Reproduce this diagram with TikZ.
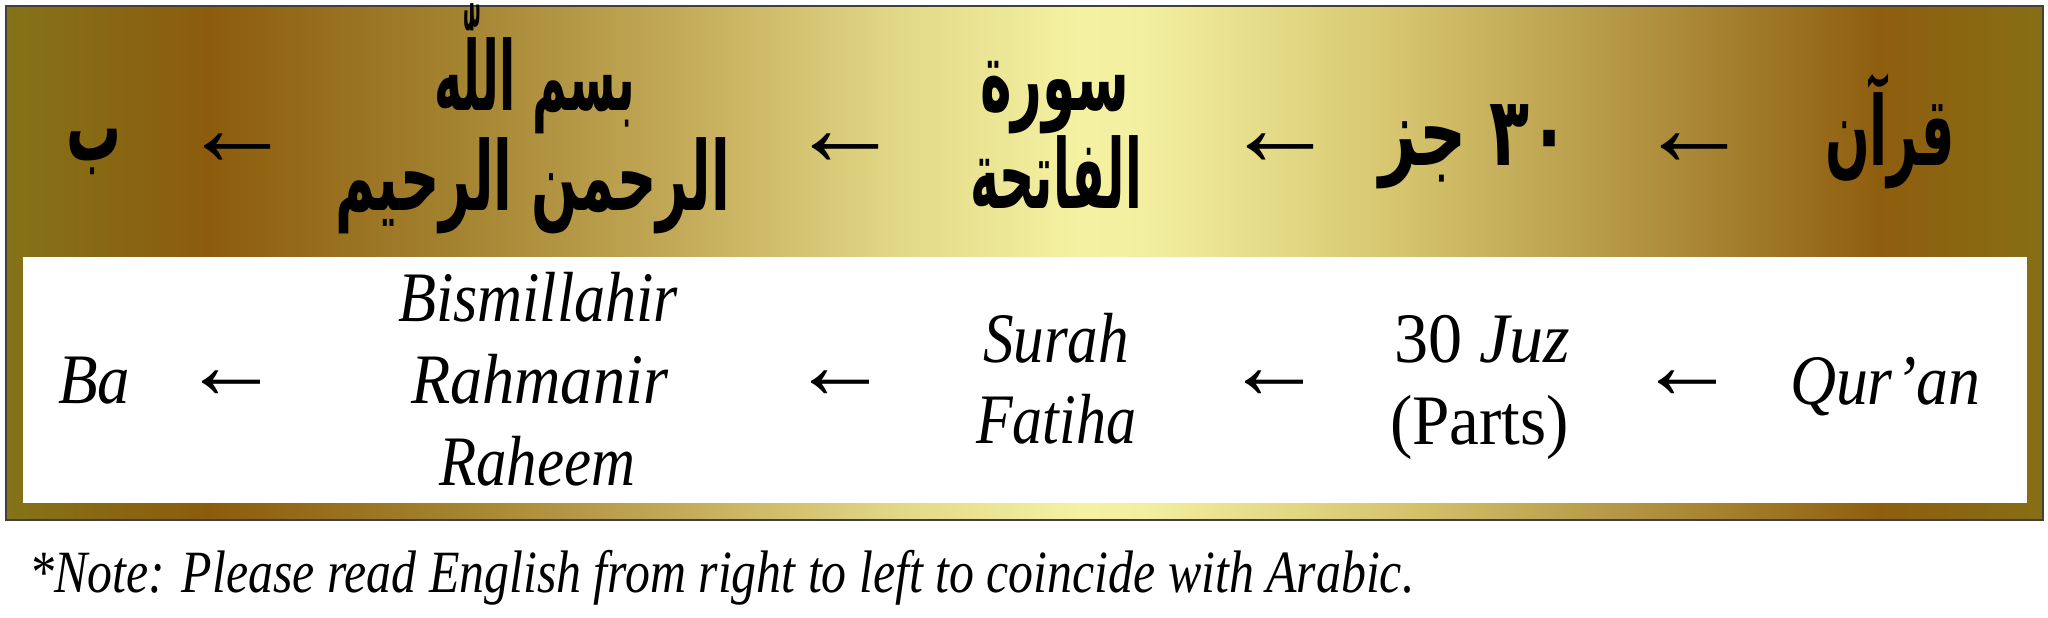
\documentclass[tikz,border=0pt]{standalone}
\usepackage{tikz}
\usepackage{graphicx}
\usepackage{fontspec}
\setmainfont{Liberation Serif}
\newfontfamily\arabicfont[Script=Arabic]{DejaVu Sans}
\TeXXeTstate=1
\newdimen\pxu \pxu=0.5pt
\newcommand\fitw[2]{\resizebox{#1\pxu}{\height}{#2}}
\newcommand\fitu[2]{\resizebox{#1\pxu}{!}{#2}}
\newcommand\artxt[1]{{\arabicfont\bfseries\beginR #1\endR}}
\definecolor{gA}{HTML}{857318}
\definecolor{gB}{HTML}{8C5C0C}
\definecolor{gC}{HTML}{A3822F}
\definecolor{gD}{HTML}{C6AE5C}
\definecolor{gE}{HTML}{E2D988}
\definecolor{gF}{HTML}{F4F2A2}
\definecolor{gG}{HTML}{F2EFA0}
\definecolor{gH}{HTML}{D6C56E}
\definecolor{gI}{HTML}{B0913F}
\definecolor{gJ}{HTML}{8E5E0E}
\definecolor{gK}{HTML}{876E14}
\pgfdeclarehorizontalshading{goldbar}{100bp}{color(0bp)=(gA); color(25bp)=(gA); color(30bp)=(gB); color(35.9bp)=(gC); color(42bp)=(gD); color(47bp)=(gE); color(51.4bp)=(gF); color(53bp)=(gG); color(59.2bp)=(gH); color(65.3bp)=(gI); color(71bp)=(gJ); color(75bp)=(gK); color(100bp)=(gK)}
\tikzset{
  en/.style={inner sep=0pt, anchor=base, font=\fontsize{35.5pt}{41pt}\selectfont},
  arb/.style={inner sep=0pt, anchor=base, font=\fontsize{48pt}{56pt}\selectfont},
  arrw/.style={inner sep=0pt, anchor=center, font=\fontsize{35.5pt}{41pt}\selectfont},
  notetxt/.style={inner sep=0pt, anchor=base west, font=\fontsize{30pt}{36pt}\selectfont\itshape},
  framebox/.style={shading=goldbar},
  frameline/.style={draw=black!75, line width=1pt},
}
\begin{document}
\begin{tikzpicture}[x=0.5pt, y=-0.5pt]
\useasboundingbox (0,0) rectangle (2048,617);
% frame
\shade[framebox] (6,6) rectangle (2043,520);
\draw[frameline] (6,6) rectangle (2043,520);
\fill[white] (23,257) rectangle (2027,503);
% Arabic row
\node[arb] (arQuran) at (1890,165) {\fitw{130}{\artxt{قرآن}}};
\node[arrw] (arA1) at (1694.5,150) {\fitu{112}{←}};
\node[arb] (arJuz) at (1474.5,165) {\fitw{191}{\artxt{٣٠ جز}}};
\node[arrw] (arA2) at (1280,150) {\fitu{112}{←}};
\node[arb] (arSuraA) at (1054.5,110) {\fitw{149}{\artxt{سورة}}};
\node[arb] (arSuraB) at (1056,208) {\fitw{172}{\artxt{الفاتحة}}};
\node[arrw] (arA3) at (845.5,150) {\fitu{112}{←}};
\node[arb] (arBismA) at (534.5,110) {\fitw{201}{\artxt{بسم اللّٰه}}};
\node[arb] (arBismB) at (532.5,210) {\fitw{395}{\artxt{الرحمن الرحيم}}};
\node[arrw] (arA4) at (237,150) {\fitu{112}{←}};
\node[arb] (arBa) at (94.5,160) {\fitw{55}{\artxt{ب}}};
% English row
\node[en] (enQuran) at (1885,404) {\fitw{190}{\itshape Qur’an}};
\node[arrw] (enA1) at (1687.5,385) {\fitu{98}{←}};
\node[en] (enJuzA) at (1482,362) {\fitw{176}{30 \textit{Juz}}};
\node[en] (enJuzB) at (1479.5,444) {\fitw{179}{(Parts)}};
\node[arrw] (enA2) at (1274.5,385) {\fitu{98}{←}};
\node[en] (enSurA) at (1056,362) {\fitw{146}{\itshape Surah}};
\node[en] (enSurB) at (1056,443) {\fitw{160}{\itshape Fatiha}};
\node[arrw] (enA3) at (840,385) {\fitu{98}{←}};
\node[en] (enBisA) at (538,321) {\fitw{280}{\itshape Bismillahir}};
\node[en] (enBisB) at (539.5,403) {\fitw{257}{\itshape Rahmanir}};
\node[en] (enBisC) at (537,485) {\fitw{196}{\itshape Raheem}};
\node[arrw] (enA4) at (231,385) {\fitu{98}{←}};
\node[en] (enBa) at (94,403) {\fitw{72}{\itshape Ba}};
% note
\node[notetxt] (note) at (29,592) {\fitw{1385}{*Note: Please read English from right to left to coincide with Arabic.}};
\end{tikzpicture}
\end{document}
